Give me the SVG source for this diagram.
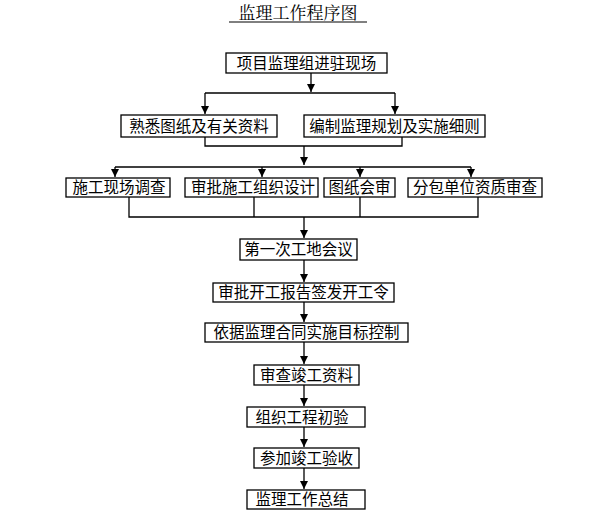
<svg xmlns="http://www.w3.org/2000/svg" width="614" height="514" viewBox="0 0 614 514">
<defs>
<style>
.b{fill:#fff;stroke:#000;stroke-width:1.3}
.t{font-family:"Noto Sans CJK SC","Noto Sans",sans-serif;font-size:15.5px;fill:#000;text-anchor:middle}
.c{fill:none;stroke:#000;stroke-width:1.3}
</style>
<marker id="a" viewBox="0 0 10 10" refX="10" refY="5" markerWidth="8" markerHeight="8" markerUnits="userSpaceOnUse" orient="auto"><path d="M0,0L10,5L0,10z" fill="#000"/></marker>
</defs>
<rect width="614" height="514" fill="#fff"/>
<text x="298" y="19" font-family="'Noto Serif CJK SC','Noto Sans CJK SC',serif" font-size="17" text-anchor="middle" fill="#000">监理工作程序图</text>
<line x1="229" y1="22" x2="367" y2="22" stroke="#000" stroke-width="1"/>
<g id="connectors">
<path class="c" d="M311,73V92" marker-end="url(#a)"/>
<path class="c" d="M205,93H395"/>
<path class="c" d="M205,93V114" marker-end="url(#a)"/>
<path class="c" d="M395,93V114" marker-end="url(#a)"/>
<path class="c" d="M205,137V146H402V137"/>
<path class="c" d="M304,146V165" marker-end="url(#a)"/>
<path class="c" d="M115,167H471"/>
<path class="c" d="M115,167V177" marker-end="url(#a)"/>
<path class="c" d="M262,167V177" marker-end="url(#a)"/>
<path class="c" d="M360,167V177" marker-end="url(#a)"/>
<path class="c" d="M471,167V177" marker-end="url(#a)"/>
<path class="c" d="M129,197V217H478V197M254,197V217M360,197V217"/>
<path class="c" d="M304,217V238" marker-end="url(#a)"/>
<path class="c" d="M304,260V282" marker-end="url(#a)"/>
<path class="c" d="M304,302V322" marker-end="url(#a)"/>
<path class="c" d="M304,342V364" marker-end="url(#a)"/>
<path class="c" d="M304,385V406" marker-end="url(#a)"/>
<path class="c" d="M304,427V447" marker-end="url(#a)"/>
<path class="c" d="M304,468V489" marker-end="url(#a)"/>
</g>
<g id="n1"><rect class="b" x="226" y="53" width="161" height="20"/><text class="t" x="306.5" y="68.5">项目监理组进驻现场</text></g>
<g id="n2"><rect class="b" x="121" y="115" width="156" height="22"/><text class="t" x="199" y="131.5">熟悉图纸及有关资料</text></g>
<g id="n3"><rect class="b" x="304" y="115" width="181" height="22"/><text class="t" x="394.5" y="131.5">编制监理规划及实施细则</text></g>
<g id="n4"><rect class="b" x="66" y="178" width="104" height="19"/><text class="t" x="119" y="193">施工现场调查</text></g>
<g id="n5"><rect class="b" x="185" y="178" width="133" height="19"/><text class="t" x="253" y="193">审批施工组织设计</text></g>
<g id="n6"><rect class="b" x="324" y="178" width="71" height="19"/><text class="t" x="359.5" y="193">图纸会审</text></g>
<g id="n7"><rect class="b" x="408" y="178" width="134" height="19"/><text class="t" x="475" y="193">分包单位资质审查</text></g>
<g id="n8"><rect class="b" x="240" y="239" width="117" height="21"/><text class="t" x="298.5" y="255">第一次工地会议</text></g>
<g id="n9"><rect class="b" x="213" y="283" width="181" height="19"/><text class="t" x="303.5" y="298">审批开工报告签发开工令</text></g>
<g id="n10"><rect class="b" x="205" y="323" width="203" height="19"/><text class="t" x="306.5" y="338">依据监理合同实施目标控制</text></g>
<g id="n11"><rect class="b" x="254" y="365" width="105" height="20"/><text class="t" x="306.5" y="380.5">审查竣工资料</text></g>
<g id="n12"><rect class="b" x="247" y="407" width="118" height="20"/><text class="t" x="302" y="422.5">组织工程初验</text></g>
<g id="n13"><rect class="b" x="254" y="448" width="105" height="20"/><text class="t" x="306.5" y="463.5">参加竣工验收</text></g>
<g id="n14"><rect class="b" x="247" y="490" width="118" height="19"/><text class="t" x="302" y="505">监理工作总结</text></g>
</svg>
